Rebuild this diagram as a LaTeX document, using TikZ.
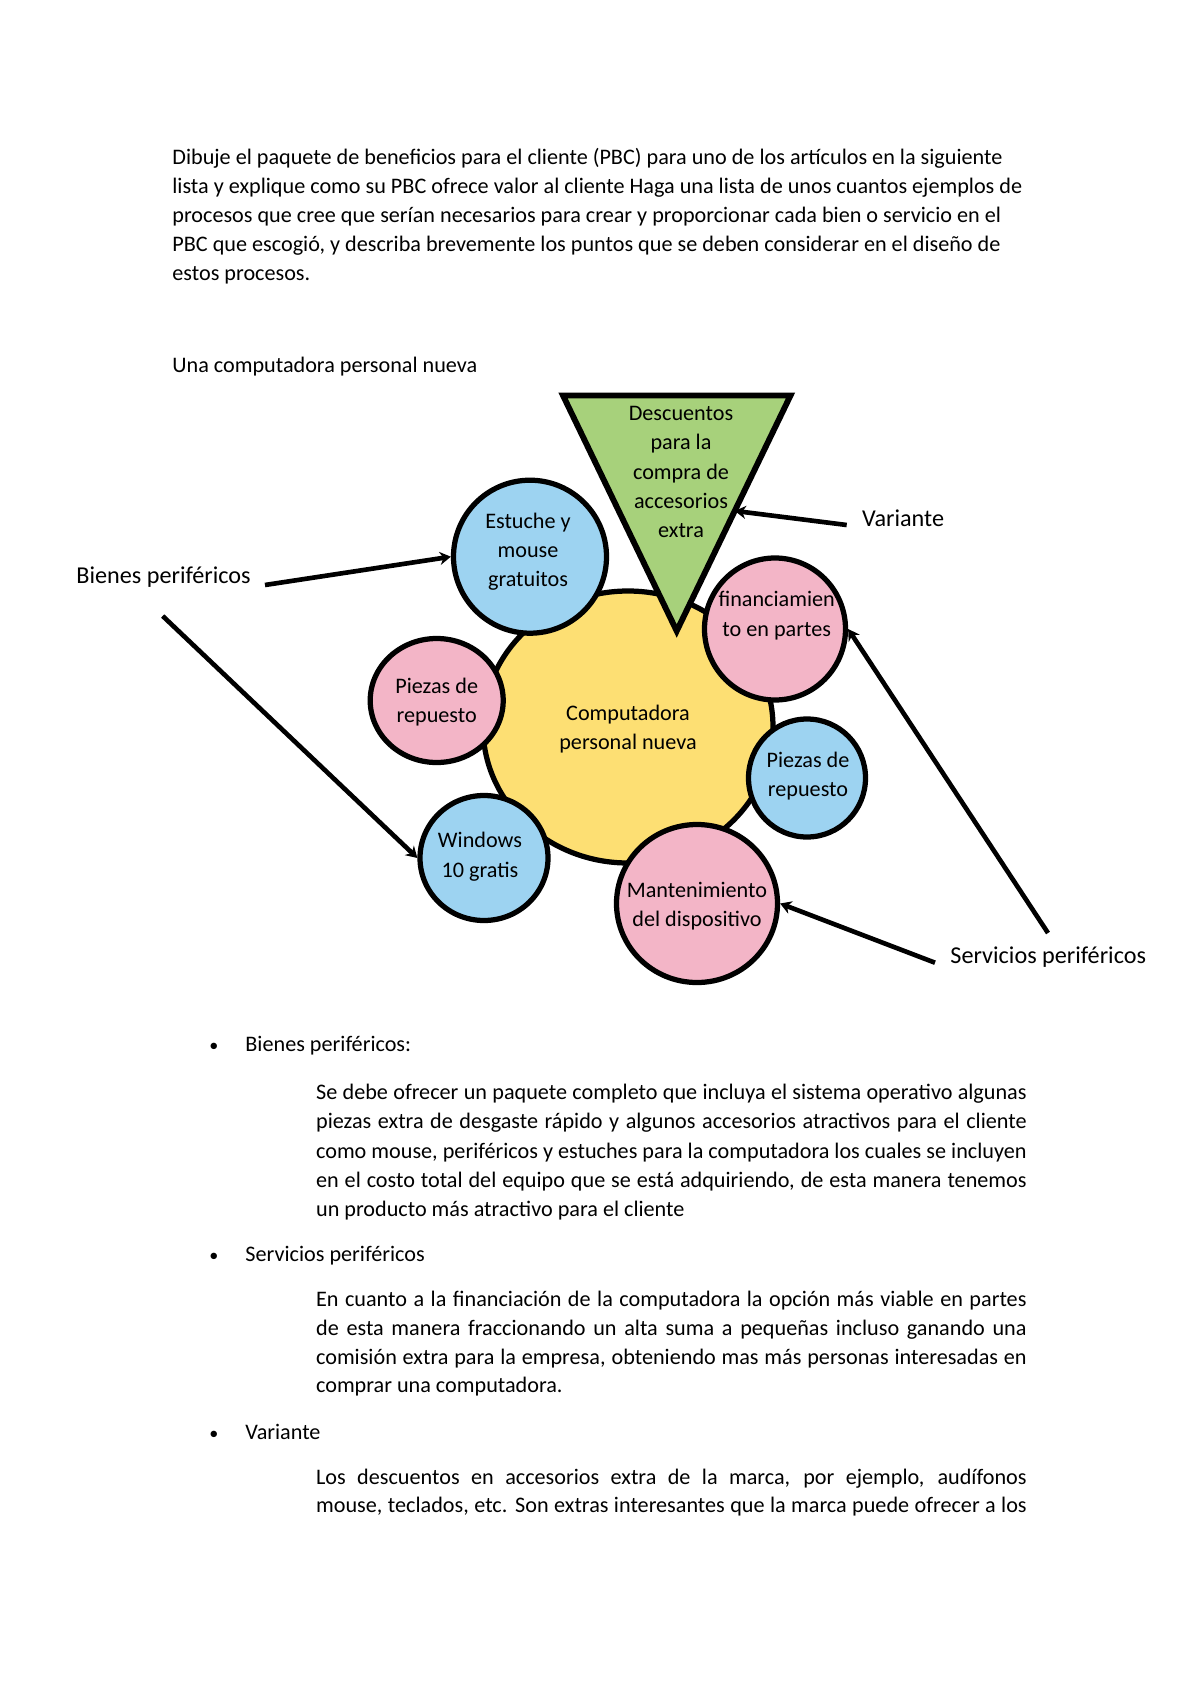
\documentclass[tikz,border=0pt]{standalone}
\usepackage{fontspec}
\setmainfont{Carlito}
\usetikzlibrary{shapes.geometric,arrows.meta,calc}
\definecolor{cblue}{HTML}{9DD3F1}
\definecolor{cpink}{HTML}{F3B5C7}
\definecolor{cyell}{HTML}{FDDF73}
\definecolor{cgreen}{HTML}{A7D17B}
\newcommand{\jl}[1]{\makebox[352.3pt][s]{#1}}
\begin{document}
\begin{tikzpicture}[x=0.49583pt,y=-0.49583pt,
  bub/.style={ellipse, draw=black, line width=2.6pt, inner sep=0pt},
  ctext/.style={align=center, inner sep=0pt, font=\fontsize{11}{14.6}\selectfont},
  body/.style={anchor=base west, inner sep=0pt, font=\fontsize{11}{14.6}\selectfont},
  bull/.style={anchor=base west, inner sep=0pt, font=\fontsize{9}{12}\selectfont},
  lbl/.style={anchor=west, inner sep=0pt, font=\fontsize{12}{14}\selectfont},
  arr/.style={line width=2.3pt, -{Stealth[length=5.5pt,width=6.5pt]}}]
\useasboundingbox (0,0) rectangle (1200,1698);
\fill[white] (0,0) rectangle (1200,1698);

% ---- top paragraph
\node[body] (p1) at (172,164) {Dibuje el paquete de beneficios para el cliente (PBC) para uno de los artículos en la siguiente};
\node[body] (p2) at (172,193.2) {lista y explique como su PBC ofrece valor al cliente Haga una lista de unos cuantos ejemplos de};
\node[body] (p3) at (172,222.4) {procesos que cree que serían necesarios para crear y proporcionar cada bien o servicio en el};
\node[body] (p4) at (172,251.6) {PBC que escogió, y describa brevemente los puntos que se deben considerar en el diseño de};
\node[body] (p5) at (172,280.8) {estos procesos.};
\node[body] (title) at (172,372) {Una computadora personal nueva};

% ---- diagram shapes
\node[bub, fill=cyell, minimum width=290*0.49583pt, minimum height=272*0.49583pt] (pc) at (628,727) {};
\node[bub, fill=cblue, minimum width=153*0.49583pt, minimum height=153*0.49583pt] (estuche) at (530,556.7) {};
\node[bub, fill=cpink, minimum width=133*0.49583pt, minimum height=124*0.49583pt] (piezasL) at (436.7,700.5) {};
\node[bub, fill=cblue, minimum width=128*0.49583pt, minimum height=125*0.49583pt] (windows) at (484,858) {};
\node[bub, fill=cpink, minimum width=141*0.49583pt, minimum height=142*0.49583pt] (financ) at (775,629) {};
\node[bub, fill=cblue, minimum width=117*0.49583pt, minimum height=118*0.49583pt] (piezasR) at (807,778) {};
\node[bub, fill=cpink, minimum width=161*0.49583pt, minimum height=158*0.49583pt] (manten) at (697,903.5) {};

\coordinate (t1) at (563,395.5);
\coordinate (t2) at (790.5,395.5);
\coordinate (t3) at (676.7,631);
\filldraw[fill=cgreen, draw=black, line width=2.9pt] (t1) -- (t2) -- (t3) -- cycle;
\coordinate (tr) at ($(t2)!0.49!(t3)$);

% ---- diagram texts
\node[ctext] (pc-t) at (628,729) {Computadora\\personal nueva};
\node[ctext] (estuche-t) at (528,551.7) {Estuche y\\mouse\\gratuitos};
\node[ctext] (piezasL-t) at (436.7,702) {Piezas de\\repuesto};
\node[ctext] (windows-t) at (480,856.5) {Windows\\10 gratis};
\node[ctext] (financ-t) at (776.7,615.5) {financiamien\\to en partes};
\node[ctext] (piezasR-t) at (808,776) {Piezas de\\repuesto};
\node[ctext] (manten-t) at (697,906) {Mantenimiento\\del dispositivo};
\node[ctext] (desc-t) at (681,472) {Descuentos\\para la\\compra de\\accesorios\\extra};

% ---- labels
\node[lbl] (bienes) at (76,577) {Bienes periféricos};
\node[lbl] (variante) at (861.7,518) {Variante};
\node[lbl] (servicios) at (950,956.7) {Servicios periféricos};

% ---- arrows
\coordinate (b1) at (265,585);
\coordinate (b2) at (162.7,616);
\coordinate (v1) at (846.7,525);
\coordinate (s1) at (1048,933);
\coordinate (s2) at (935,962.7);
\draw[arr] (b1) -- (estuche.west);
\draw[arr] (b2) -- (windows.west);
\draw[arr] (v1) -- (tr);
\draw[arr] (s1) -- (financ.east);
\draw[arr] (s2) -- (manten.east);

% ---- bullets and paragraphs
\node[bull] (bu1) at (209,1051) {•};
\node[body] (h1) at (245,1051) {Bienes periféricos:};
\node[body] (a1) at (315.7,1099.7) {\jl{Se debe ofrecer un paquete completo que incluya el sistema operativo algunas}};
\node[body] (a2) at (315.7,1128.9) {\jl{piezas extra de desgaste rápido y algunos accesorios atractivos para el cliente}};
\node[body] (a3) at (315.7,1158.1) {\jl{como mouse, periféricos y estuches para la computadora los cuales se incluyen}};
\node[body] (a4) at (315.7,1187.3) {\jl{en el costo total del equipo que se está adquiriendo, de esta manera tenemos}};
\node[body] (a5) at (315.7,1216.5) {un producto más atractivo para el cliente};

\node[bull] (bu2) at (209,1261) {•};
\node[body] (h2) at (245,1261) {Servicios periféricos};
\node[body] (c1) at (315.7,1306) {\jl{En cuanto a la financiación de la computadora la opción más viable en partes}};
\node[body] (c2) at (315.7,1335) {\jl{de esta manera fraccionando un alta suma a pequeñas incluso ganando una}};
\node[body] (c3) at (315.7,1364) {\jl{comisión extra para la empresa, obteniendo mas más personas interesadas en}};
\node[body] (c4) at (315.7,1392.7) {comprar una computadora.};

\node[bull] (bu3) at (209,1439.7) {•};
\node[body] (h3) at (245,1439.7) {Variante};
\node[body] (d1) at (315.7,1484) {\jl{Los descuentos en accesorios extra de la marca, por ejemplo, audífonos}};
\node[body] (d2) at (315.7,1512.7) {\jl{mouse, teclados, etc. Son extras interesantes que la marca puede ofrecer a los}};
\end{tikzpicture}
\end{document}
